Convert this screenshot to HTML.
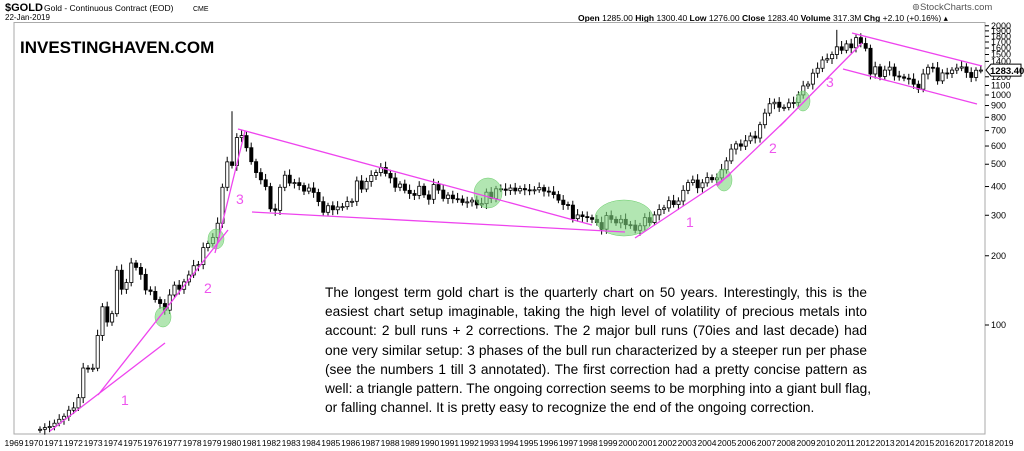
<!DOCTYPE html>
<html><head><meta charset="utf-8">
<style>
body{margin:0;background:#fff;width:1024px;height:451px;overflow:hidden;font-family:"Liberation Sans",sans-serif;}
svg{position:absolute;left:0;top:0}
#txt{position:absolute;left:325px;top:283px;width:542px;font-size:13.7px;line-height:19.2px;color:#000;}
#txt div{text-align:justify;text-align-last:justify;white-space:nowrap;}
#txt div.l{text-align-last:left;}
</style></head><body>
<svg id="s" width="1024" height="451" xmlns="http://www.w3.org/2000/svg" font-family="Liberation Sans, sans-serif">
<text x="5" y="11" font-size="11" font-weight="bold">$GOLD</text>
<text x="44" y="11" font-size="8.5">Gold - Continuous Contract (EOD)</text>
<text x="193" y="11" font-size="7">CME</text>
<text x="5" y="20" font-size="8">22-Jan-2019</text>
<text x="912" y="10" font-size="9.5" fill="#555">⊚StockCharts.com</text>
<text x="578" y="21" font-size="8.5"><tspan font-weight="bold">Open</tspan> 1285.00 <tspan font-weight="bold">High</tspan> 1300.40 <tspan font-weight="bold">Low</tspan> 1276.00 <tspan font-weight="bold">Close</tspan> 1283.40 <tspan font-weight="bold">Volume</tspan> 317.3M <tspan font-weight="bold">Chg</tspan> +2.10 (+0.16%) ▴</text>
<rect x="14" y="22.5" width="971" height="411.5" fill="none" stroke="#aaa" stroke-width="1"/>
<text x="20" y="53" font-size="17" font-weight="bold">INVESTINGHAVEN.COM</text>
<g id="g"></g>
<g fill="#7ed67e" fill-opacity="0.6" stroke="#6c6" stroke-width="0.5">
<ellipse cx="163" cy="317" rx="8" ry="10"/>
<ellipse cx="216" cy="239" rx="8" ry="10"/>
<ellipse cx="488" cy="193" rx="14" ry="15"/>
<ellipse cx="624" cy="218" rx="29" ry="18"/>
<ellipse cx="724" cy="180" rx="8" ry="11"/>
<ellipse cx="803" cy="101" rx="7" ry="10"/>
</g>
<g stroke="#ee44ee" stroke-width="1.3" fill="none">
<line x1="50" y1="431" x2="165" y2="343"/>
<line x1="98" y1="395" x2="228" y2="230"/>
<line x1="215" y1="253" x2="245" y2="131"/>
<line x1="238" y1="129" x2="592" y2="225"/>
<line x1="252" y1="212" x2="625" y2="232"/>
<line x1="635" y1="238" x2="730" y2="175"/>
<line x1="717" y1="186" x2="786" y2="120"/>
<line x1="780" y1="126" x2="862" y2="43"/>
<line x1="852" y1="33" x2="982" y2="66"/>
<line x1="843" y1="69" x2="977" y2="104"/>
</g>
<g fill="#ee55ee" font-size="14">
<text x="121" y="405">1</text><text x="204" y="293">2</text><text x="236" y="204">3</text>
<text x="686" y="227">1</text><text x="769" y="153">2</text><text x="826" y="87">3</text>
</g>
<g id="ax" font-size="9" fill="#000"></g>
<g id="xa" font-size="8" fill="#000"></g>
</svg>
<div id="txt">
<div>The longest term gold chart is the quarterly chart on 50 years. Interestingly, this is the</div>
<div>easiest chart setup imaginable, taking the high level of volatility of precious metals into</div>
<div>account: 2 bull runs + 2 corrections. The 2 major bull runs (70ies and last decade) had</div>
<div>one very similar setup: 3 phases of the bull run characterized by a steeper run per phase</div>
<div>(see the numbers 1 till 3 annotated). The first correction had a pretty concise pattern as</div>
<div>well: a triangle pattern. The ongoing correction seems to be morphing into a giant bull flag,</div>
<div class="l">or falling channel. It is pretty easy to recognize the end of the ongoing correction.</div>
</div>
<script>
var c=[35.2,35.8,36.2,37.4,38.9,40.1,42.6,43.6,48.3,65,64.9,64.9,90,120,103,112,173,143,153,186,178,166,142,140,129,124,116,135,149,143,154,165,181,183,217,226,240,277,397,512,494,653,666,590,513,460,428,400,320,315,397,448,414,416,404,382,394,377,344,309,330,317,326,327,344,345,423,390,421,447,460,484,456,436,397,410,385,373,366,401,368,352,408,386,355,367,354,353,341,343,349,333,337,378,355,391,390,385,394,383,392,387,384,387,396,382,379,369,349,334,332,290,301,296,293,288,279,261,299,288,278,288,273,272,258,270,293,279,301,318,323,347,334,346,385,416,427,395,415,438,428,436,473,517,582,613,599,632,663,650,743,834,916,930,884,884,924,928,1001,1095,1115,1244,1307,1420,1439,1500,1620,1565,1668,1604,1776,1675,1596,1234,1326,1204,1283,1322,1210,1199,1183,1172,1114,1060,1234,1320,1313,1152,1247,1241,1283,1309,1325,1253,1192,1281,1283.4];
function Y(p){return 325-230*Math.log10(p/100);}
var s='',o=35;
for(var i=0;i<c.length;i++){
 var cl=c[i],x=38+i*4.8,hi=Math.max(o,cl)*(1.03+0.03*((i*7)%5)/4),lo=Math.min(o,cl)*(0.97-0.03*((i*3)%4)/4);
 if(i==40)hi=850; if(i==166)hi=1920;
 s+='<line x1="'+(x+2)+'" x2="'+(x+2)+'" y1="'+Y(hi)+'" y2="'+Y(lo)+'" stroke="#000" stroke-width="1"/>';
 var t=Math.min(Y(o),Y(cl)),h=Math.max(1,Math.abs(Y(o)-Y(cl)));
 s+='<rect x="'+(x+0.5)+'" y="'+t+'" width="3.2" height="'+h+'" fill="'+(cl<o?'#000':'#fff')+'" stroke="#000" stroke-width="0.8"/>';
 o=cl;}
document.getElementById('g').innerHTML=s;
var a='',L=[2000,1900,1800,1700,1600,1500,1400,1200,1100,1000,900,800,700,600,500,400,300,200,100];
L.forEach(function(v){a+='<line x1="985" x2="989" y1="'+Y(v)+'" y2="'+Y(v)+'" stroke="#000"/><text x="991" y="'+(Y(v)+3)+'">'+v+'</text>';});
a+='<path d="M986 '+Y(1283.4)+' l5 -6 h30 v12 h-30z" fill="#fff" stroke="#000"/><text x="990" y="'+(Y(1283.4)+4)+'" font-weight="bold" font-size="9.5">1283.40</text>';
document.getElementById('ax').innerHTML=a;
var b='';for(var y=1969;y<=2019;y++){b+='<text x="'+(14+(y-1969)*19.8)+'" y="446" text-anchor="middle" textLength="19" lengthAdjust="spacingAndGlyphs">'+y+'</text>';}
document.getElementById('xa').innerHTML=b;
</script>
</body></html>
